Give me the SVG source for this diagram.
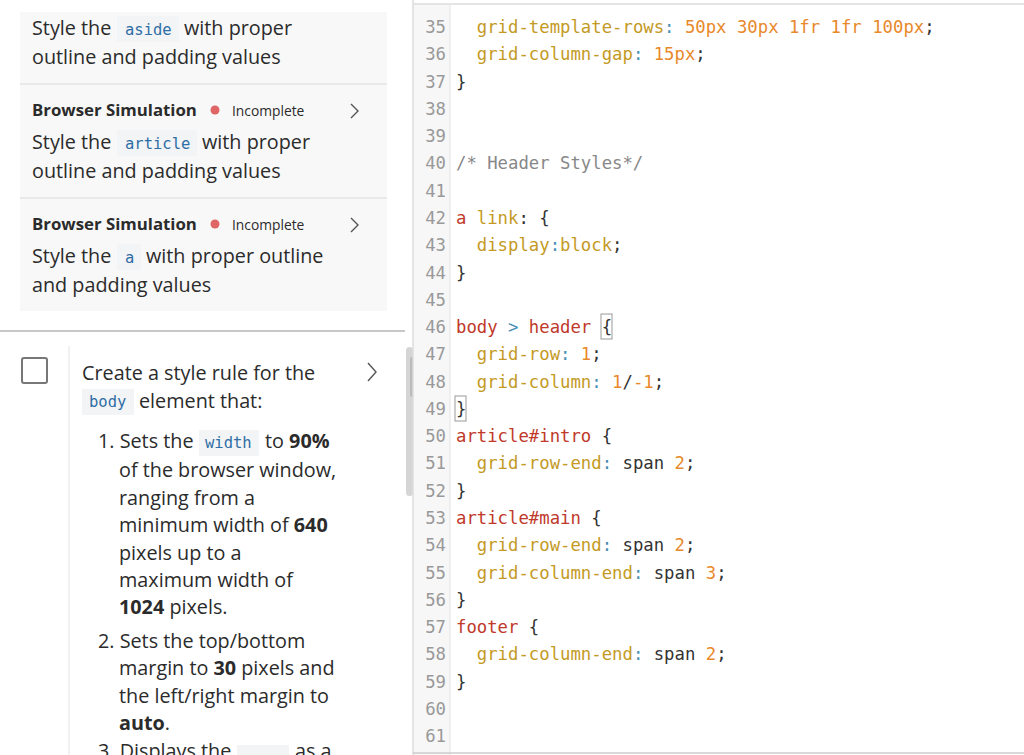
<svg xmlns="http://www.w3.org/2000/svg" width="1024" height="755" viewBox="0 0 1024 755">
<style>
.t{font-family:"Open Sans","Noto Sans",sans-serif;font-size:19.8px;fill:#2b2b2b}
.b{font-weight:bold}
.h{font-family:"Open Sans","Noto Sans",sans-serif;font-size:16.8px;font-weight:bold;fill:#2b2b2b}
.s{font-family:"Open Sans","Noto Sans",sans-serif;font-size:13.8px;fill:#2b2b2b}
.ic{font-family:"DejaVu Sans Mono",monospace;font-size:15.5px;fill:#2f6ea5}
.cb{fill:#f3f4f5}
.card{fill:#f8f8f8}
.c{font-family:"DejaVu Sans Mono",monospace;font-size:17.3px;fill:#333}
.n{font-family:"DejaVu Sans Mono",monospace;font-size:17.3px;fill:#999;text-anchor:end}
.p{fill:#c49a25}.o{fill:#e8892b}.r{fill:#c0392b}.g{fill:#888}.bl{fill:#4a90b8}
.chev{fill:none;stroke:#555;stroke-width:1.4}
</style>
<rect width="1024" height="755" fill="#fff"/>
<g id="left">
<rect class="card" x="20" y="12" width="367" height="71"/>
<rect class="card" x="20" y="85" width="367" height="112"/>
<rect class="card" x="20" y="199" width="367" height="112"/>
<line x1="20" y1="84" x2="387" y2="84" stroke="#e2e2e2" stroke-width="1.5"/>
<line x1="20" y1="198" x2="387" y2="198" stroke="#e2e2e2" stroke-width="1.5"/>
<rect class="cb" x="117" y="16" width="62" height="26"/>
<text class="t" x="32" y="35">Style the <tspan class="ic" x="125">aside</tspan><tspan x="184">with proper</tspan></text>
<text class="t" x="32" y="64">outline and padding values</text>
<text class="h" x="32" y="116">Browser Simulation</text>
<circle cx="215" cy="110" r="4.5" fill="#e06666"/>
<text class="s" x="232" y="116">Incomplete</text>
<path class="chev" d="M351 104 L358 111 L351 118"/>
<rect class="cb" x="117" y="130" width="80" height="26"/>
<text class="t" x="32" y="149">Style the <tspan class="ic" x="125">article</tspan><tspan x="202">with proper</tspan></text>
<text class="t" x="32" y="178">outline and padding values</text>
<text class="h" x="32" y="230">Browser Simulation</text>
<circle cx="215" cy="224" r="4.5" fill="#e06666"/>
<text class="s" x="232" y="230">Incomplete</text>
<path class="chev" d="M351 218 L358 225 L351 232"/>
<rect class="cb" x="117" y="244" width="24" height="26"/>
<text class="t" x="32" y="263">Style the <tspan class="ic" x="125">a</tspan><tspan x="146">with proper outline</tspan></text>
<text class="t" x="32" y="292">and padding values</text>
<line x1="0" y1="331" x2="405" y2="331" stroke="#c8c8c8" stroke-width="2"/>
<rect x="22" y="358" width="25" height="25" rx="2" fill="none" stroke="#777" stroke-width="2"/>
<line x1="69" y1="346" x2="69" y2="755" stroke="#ececec" stroke-width="1.5"/>
<path class="chev" d="M368 363 L376 372 L368 381"/>
<text class="t" x="82" y="380">Create a style rule for the</text>
<rect class="cb" x="82" y="389" width="52" height="26"/>
<text class="ic" x="89" y="407">body</text>
<text class="t" x="139" y="408">element that:</text>
<rect class="cb" x="199" y="430" width="60" height="26"/>
<text class="t" x="98" y="448">1. Sets the <tspan class="ic" x="205">width</tspan><tspan x="265">to </tspan><tspan class="b">90%</tspan></text>
<text class="t" x="119" y="477">of the browser window,</text>
<text class="t" x="119" y="505">ranging from a</text>
<text class="t" x="119" y="532">minimum width of <tspan class="b">640</tspan></text>
<text class="t" x="119" y="560">pixels up to a</text>
<text class="t" x="119" y="587">maximum width of</text>
<text class="t" x="119" y="614"><tspan class="b">1024</tspan> pixels.</text>
<text class="t" x="98" y="648">2. Sets the top/bottom</text>
<text class="t" x="119" y="675">margin to <tspan class="b">30</tspan> pixels and</text>
<text class="t" x="119" y="703">the left/right margin to</text>
<text class="t" x="119" y="730"><tspan class="b">auto</tspan>.</text>
<rect class="cb" x="237" y="745" width="52" height="10"/>
<text class="t" x="98" y="758">3. Displays the <tspan x="295">as a</tspan></text>
<rect x="406" y="347" width="7" height="149" rx="3.5" fill="#d5d5d5"/>
<rect x="410" y="357" width="4" height="40" rx="2" fill="#bbb"/>
</g>
<g id="editor">
<rect x="413" y="4" width="37" height="751" fill="#f7f7f7"/>
<line x1="413" y1="0" x2="413" y2="755" stroke="#ddd" stroke-width="1.5"/>
<line x1="413" y1="4" x2="1024" y2="4" stroke="#ddd" stroke-width="1.5"/>
<line x1="450" y1="4" x2="450" y2="755" stroke="#e4e4e4"/>
<g>
<text class="n" x="446" y="33">35</text><text class="n" x="446" y="60">36</text><text class="n" x="446" y="88">37</text><text class="n" x="446" y="115">38</text><text class="n" x="446" y="142">39</text><text class="n" x="446" y="169">40</text><text class="n" x="446" y="197">41</text><text class="n" x="446" y="224">42</text><text class="n" x="446" y="251">43</text><text class="n" x="446" y="279">44</text><text class="n" x="446" y="306">45</text><text class="n" x="446" y="333">46</text><text class="n" x="446" y="360">47</text><text class="n" x="446" y="388">48</text><text class="n" x="446" y="415">49</text><text class="n" x="446" y="442">50</text><text class="n" x="446" y="469">51</text><text class="n" x="446" y="497">52</text><text class="n" x="446" y="524">53</text><text class="n" x="446" y="551">54</text><text class="n" x="446" y="579">55</text><text class="n" x="446" y="606">56</text><text class="n" x="446" y="633">57</text><text class="n" x="446" y="660">58</text><text class="n" x="446" y="688">59</text><text class="n" x="446" y="715">60</text><text class="n" x="446" y="742">61</text>
</g>
<g>
<text class="c" x="456" y="33" xml:space="preserve">  <tspan class="p">grid-template-rows</tspan><tspan class="bl">:</tspan> <tspan class="o">50px 30px 1fr 1fr 100px</tspan>;</text>
<text class="c" x="456" y="60" xml:space="preserve">  <tspan class="p">grid-column-gap</tspan><tspan class="bl">:</tspan> <tspan class="o">15px</tspan>;</text>
<text class="c" x="456" y="88">}</text>
<text class="c g" x="456" y="169">/* Header Styles*/</text>
<text class="c" x="456" y="224"><tspan class="r">a</tspan> <tspan class="p">link</tspan>: {</text>
<text class="c" x="456" y="251" xml:space="preserve">  <tspan class="p">display</tspan><tspan class="bl">:</tspan><tspan class="p">block</tspan>;</text>
<text class="c" x="456" y="279">}</text>
<rect x="601" y="314" width="11" height="25" fill="none" stroke="#999"/>
<text class="c" x="456" y="333"><tspan class="r">body</tspan> <tspan class="bl">&gt;</tspan> <tspan class="r">header</tspan> {</text>
<text class="c" x="456" y="360" xml:space="preserve">  <tspan class="p">grid-row</tspan><tspan class="bl">:</tspan> <tspan class="o">1</tspan>;</text>
<text class="c" x="456" y="388" xml:space="preserve">  <tspan class="p">grid-column</tspan><tspan class="bl">:</tspan> <tspan class="o">1</tspan>/<tspan class="o">-1</tspan>;</text>
<rect x="455" y="396" width="11" height="25" fill="none" stroke="#999"/>
<text class="c" x="456" y="415">}</text>
<text class="c" x="456" y="442"><tspan class="r">article#intro</tspan> {</text>
<text class="c" x="456" y="469" xml:space="preserve">  <tspan class="p">grid-row-end</tspan><tspan class="bl">:</tspan> span <tspan class="o">2</tspan>;</text>
<text class="c" x="456" y="497">}</text>
<text class="c" x="456" y="524"><tspan class="r">article#main</tspan> {</text>
<text class="c" x="456" y="551" xml:space="preserve">  <tspan class="p">grid-row-end</tspan><tspan class="bl">:</tspan> span <tspan class="o">2</tspan>;</text>
<text class="c" x="456" y="579" xml:space="preserve">  <tspan class="p">grid-column-end</tspan><tspan class="bl">:</tspan> span <tspan class="o">3</tspan>;</text>
<text class="c" x="456" y="606">}</text>
<text class="c" x="456" y="633"><tspan class="r">footer</tspan> {</text>
<text class="c" x="456" y="660" xml:space="preserve">  <tspan class="p">grid-column-end</tspan><tspan class="bl">:</tspan> span <tspan class="o">2</tspan>;</text>
<text class="c" x="456" y="688">}</text>
</g>
<line x1="413" y1="753" x2="1024" y2="753" stroke="#ccc" stroke-width="1.5"/>
</g>
</svg>
